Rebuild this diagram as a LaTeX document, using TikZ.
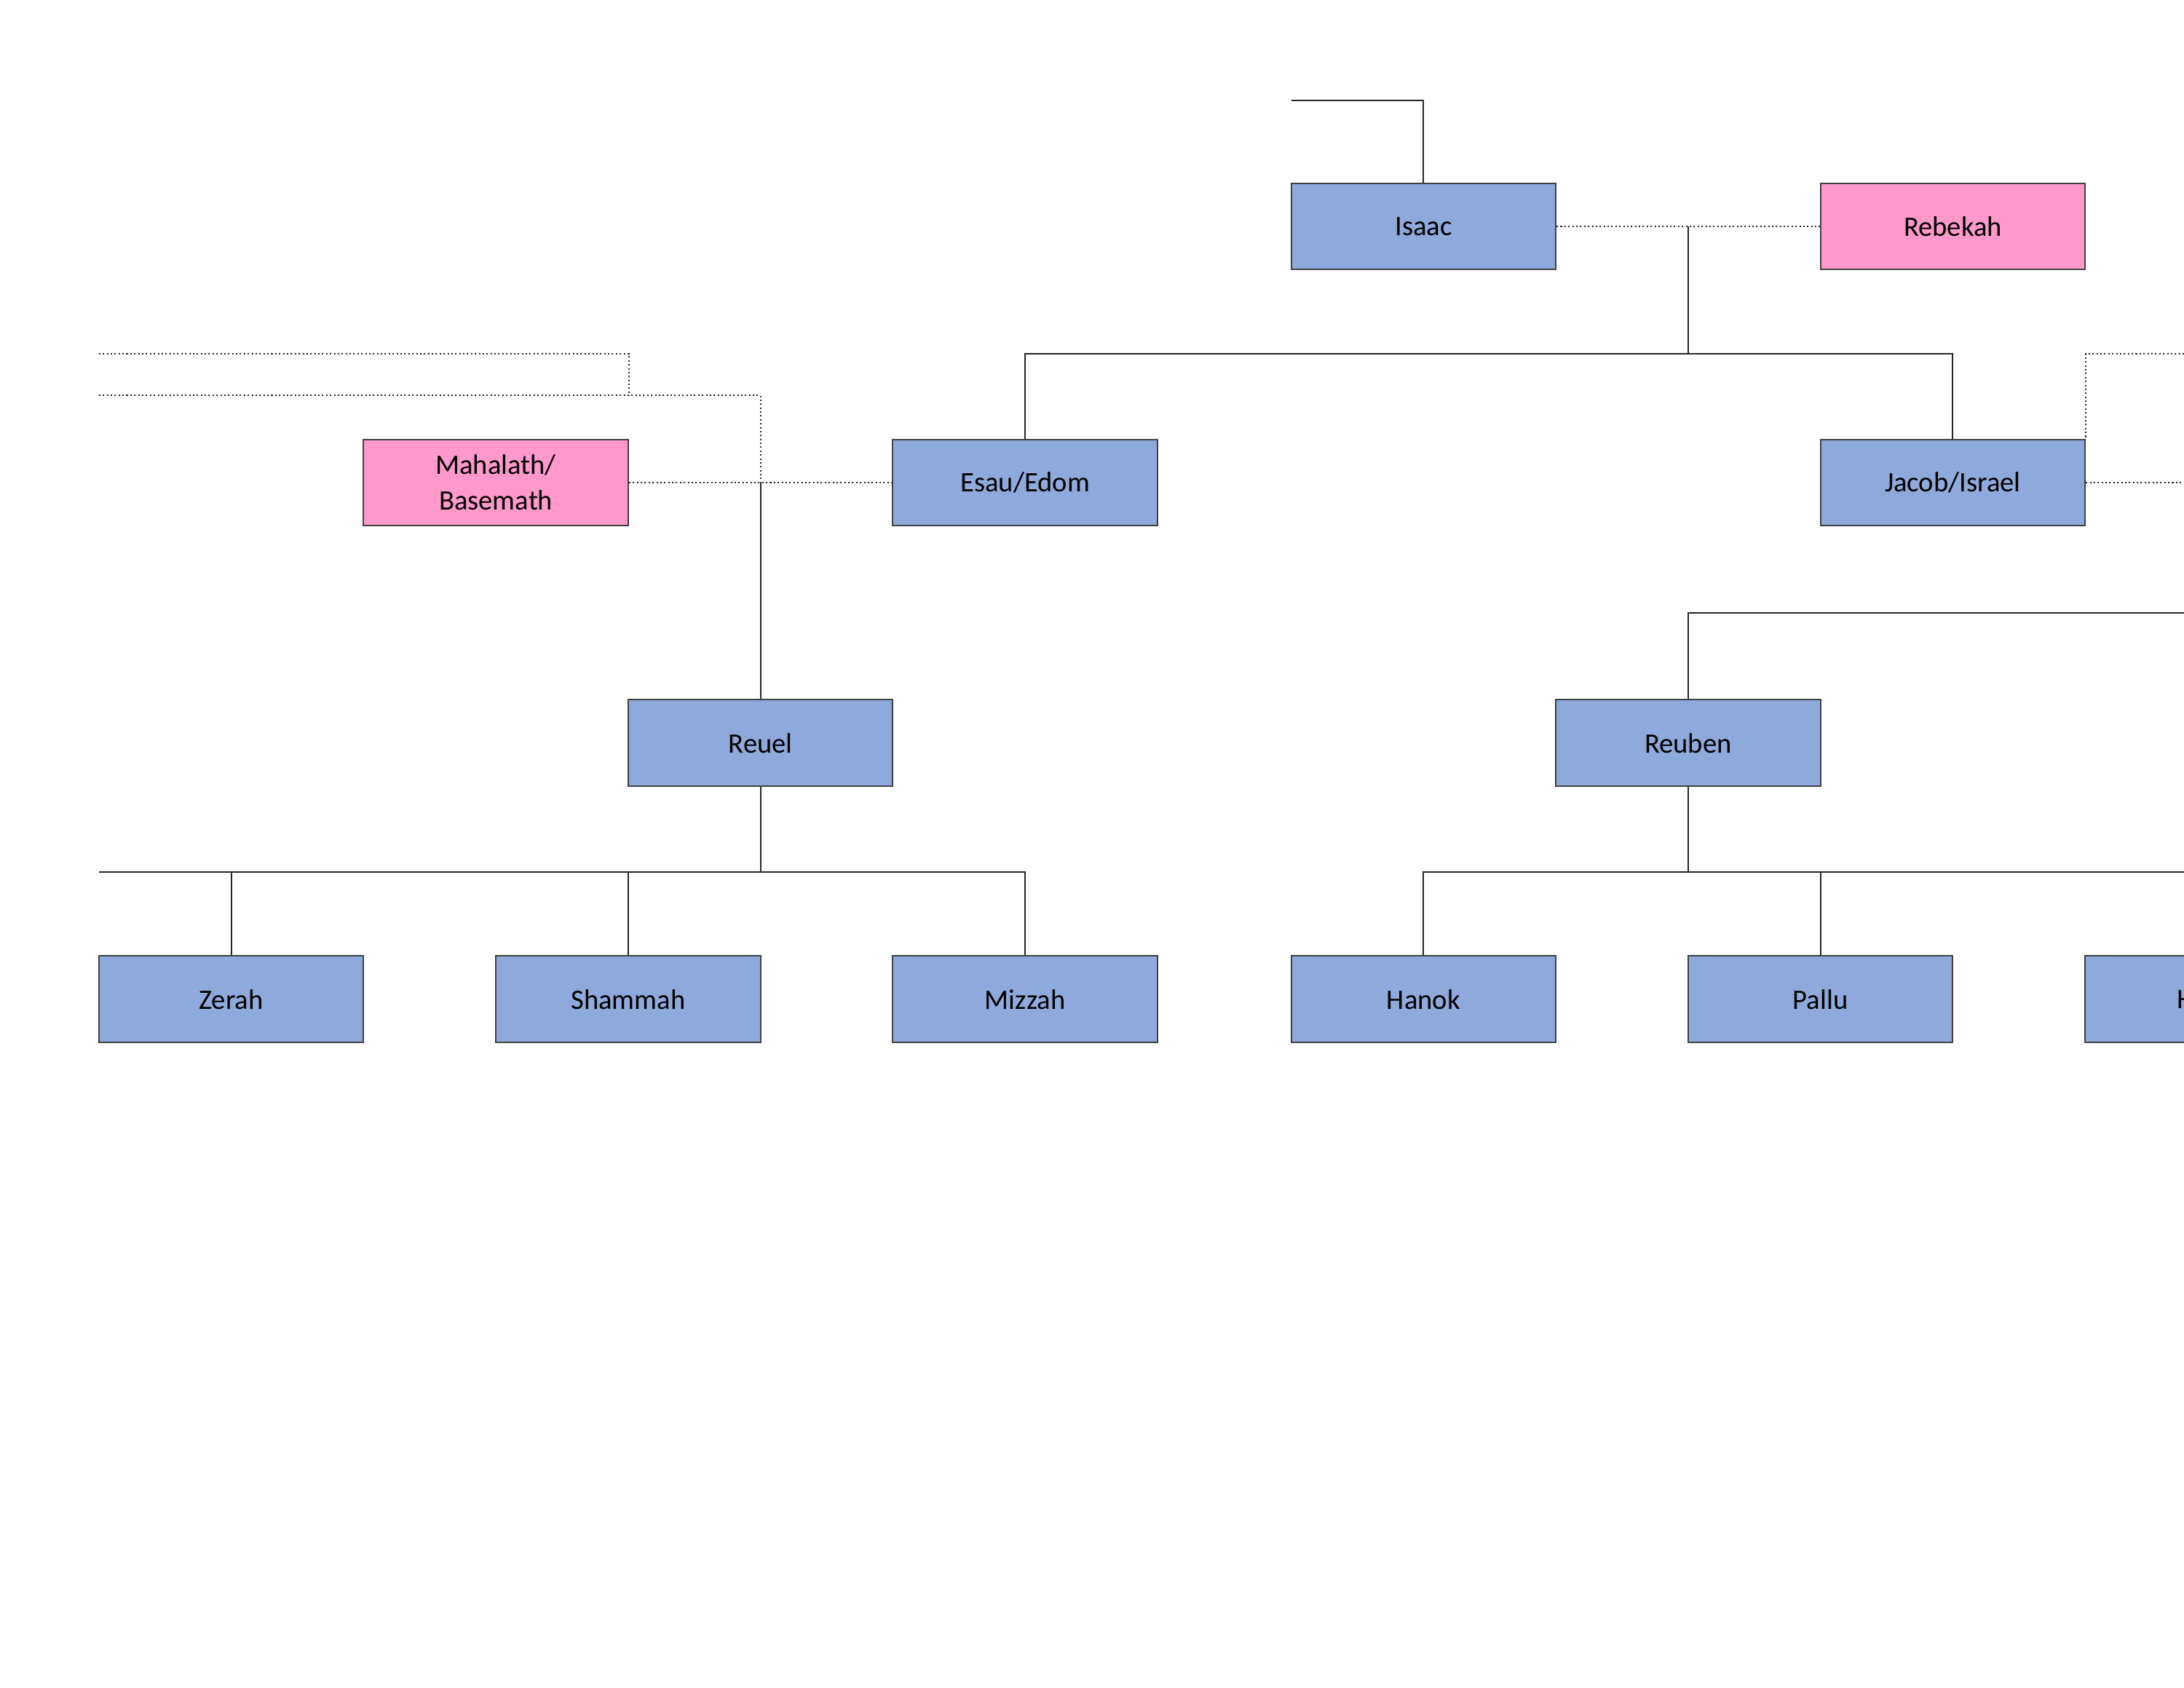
\documentclass[tikz,border=0pt]{standalone}
\usepackage{fontspec}
\setmainfont{Carlito}
\begin{document}
\begin{tikzpicture}[x=0.02cm,y=-0.02cm,
  person/.style={draw=black!75,line width=0.6pt,minimum width=3.8cm,minimum height=1.24cm,inner sep=0pt,align=center,font=\fontsize{11.5}{14.5}\selectfont},
  male/.style={person,fill=blue1},
  female/.style={person,fill=pink1},
  kin/.style={line width=0.6pt,black!85},
  wed/.style={line width=0.6pt,black!85,densely dotted}]
\definecolor{blue1}{HTML}{8EA9DB}
\definecolor{pink1}{HTML}{FF99CC}
\useasboundingbox (0,0) rectangle (1568,1212);
\clip (0,0) rectangle (1568,1212);
\node[male] (isaac) at (1022,162.5) {Isaac};
\node[female] (rebekah) at (1402,162.5) {Rebekah};
\node[female] (mahalath) at (356,346.5) {Mahalath/\\Basemath};
\node[male] (esau) at (736,346.5) {Esau/Edom};
\node[male] (jacob) at (1402,346.5) {Jacob/Israel};
\node[male] (reuel) at (546,533.5) {Reuel};
\node[male] (reuben) at (1212,533.5) {Reuben};
\node[male] (zerah) at (166,717.5) {Zerah};
\node[male] (shammah) at (451,717.5) {Shammah};
\node[male] (mizzah) at (736,717.5) {Mizzah};
\node[male] (hanok) at (1022,717.5) {Hanok};
\node[male] (pallu) at (1307,717.5) {Pallu};
\node[male] (hezron) at (1592,717.5) {Hezron};
\coordinate (tl) at (927,72);
\coordinate (m1) at (1212,162.5);
\coordinate (m2) at (546,346.5);
\coordinate (l1) at (71,254);
\coordinate (l2) at (71,284);
\coordinate (r1) at (1568,254);
\coordinate (r2) at (1568,346.5);
\coordinate (r3) at (1568,440);
\coordinate (zl) at (71,626);
\coordinate (hr) at (1568,626);
\draw[kin] (tl) -| (isaac.north);
\draw[wed] (isaac.east) -- (rebekah.west);
\draw[kin] (m1) -- (1212,254) -| (esau.north);
\draw[kin] (1212,254) -| (jacob.north);
\draw[wed] (l1) -| (mahalath.north east |- l2);
\draw[wed] (l2) -| (m2);
\draw[wed] (mahalath.east) -- (esau.west);
\draw[kin] (m2) -- (reuel.north);
\draw[wed] (r1) -| (jacob.north east);
\draw[wed] (jacob.east) -- (r2);
\draw[kin] (r3) -| (reuben.north);
\draw[kin] (reuel.south) -- (546,626);
\draw[kin] (zl) -| (mizzah.north);
\draw[kin] (166,626) -- (zerah.north);
\draw[kin] (451,626) -- (shammah.north);
\draw[kin] (reuben.south) -- (1212,626);
\draw[kin] (hr) -| (hanok.north);
\draw[kin] (1307,626) -- (pallu.north);
\end{tikzpicture}
\end{document}
